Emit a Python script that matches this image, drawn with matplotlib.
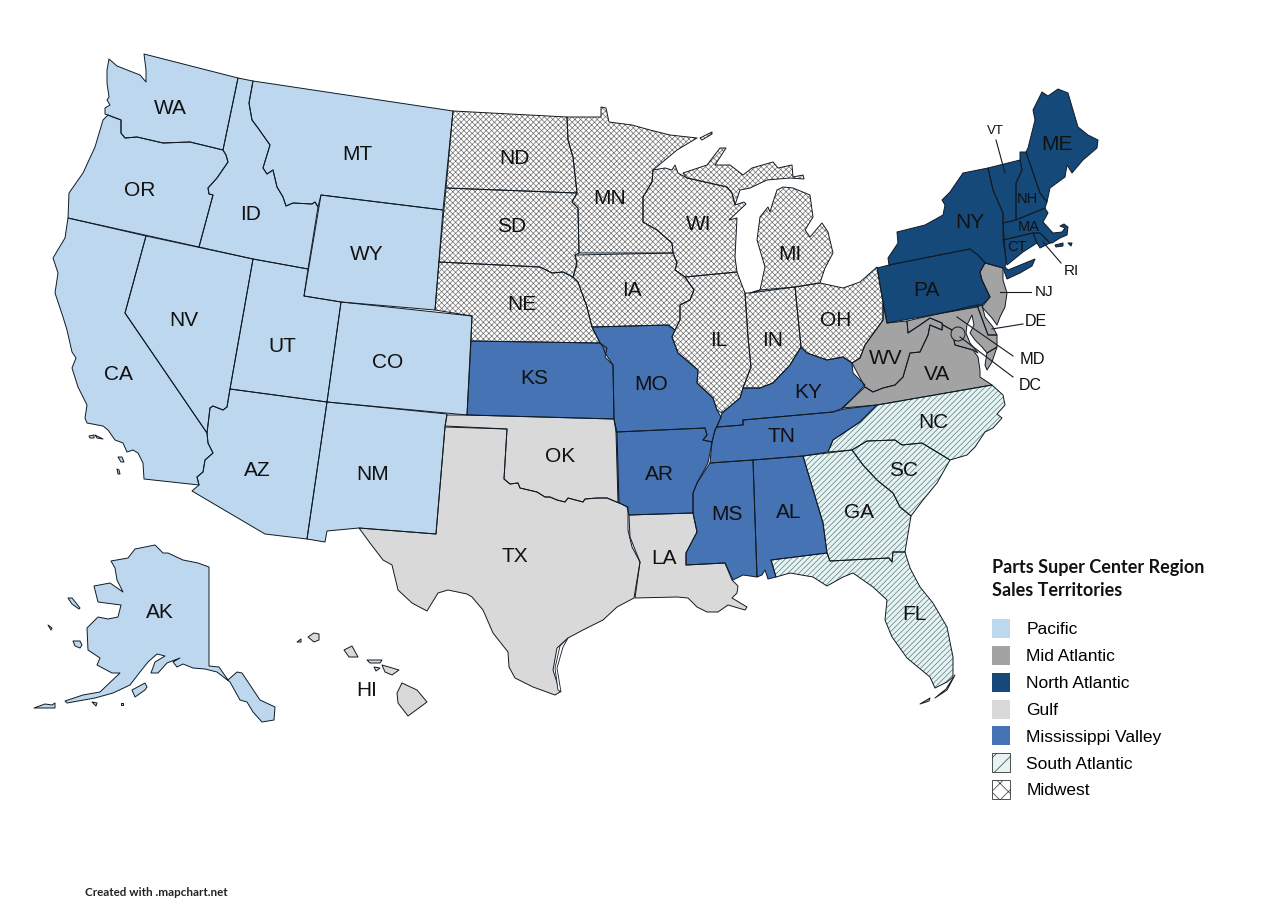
import matplotlib
matplotlib.use("Agg")
import matplotlib.pyplot as plt
from matplotlib.patches import Polygon, Circle, Patch

plt.rcParams["font.family"] = ["Liberation Sans", "DejaVu Sans"]
plt.rcParams["hatch.linewidth"] = 0.5

# outlines, in picture pixels
WA = [(144,54),(238,78),(223,150),(190,142),(163,143),(137,137),(125,138),(121,133),(121,120),(113,117),(108,115),(105,114),(105,108),(110,105),(107,100),(109,97),(107,83),(107,70),(109,59),(117,66),(140,75),(146,82),(146,70)]
OR = [(108,115),(113,117),(121,120),(121,133),(125,138),(137,137),(163,143),(190,142),(223,150),(226,155),(228,162),(217,178),(208,188),(209,194),(213,195),(199,247),(68,218),(69,193),(83,173),(95,147),(103,120)]
ID = [(238,78),(253,81),(249,103),(252,120),(258,128),(270,145),(263,168),(267,174),(273,170),(277,187),(283,197),(286,206),(293,203),(312,204),(315,202),(318,207),(308,269),(253,259),(199,247),(213,195),(209,194),(208,188),(217,178),(228,162),(226,155),(223,150)]
MT = [(253,81),(453,111),(443,210),(321,195),(318,207),(315,202),(312,204),(293,203),(286,206),(283,197),(277,187),(273,170),(267,174),(263,168),(270,145),(258,128),(252,120),(249,103)]
WY = [(321,195),(443,210),(435,310),(341,302),(304,296)]
NV = [(146,236),(253,259),(230,389),(227,407),(223,410),(218,408),(213,406),(210,408),(207,433),(125,313)]
CA = [(68,218),(146,236),(125,313),(207,433),(208,443),(213,453),(205,460),(203,472),(197,477),(199,485),(144,479),(143,463),(138,453),(133,450),(127,452),(123,443),(115,440),(108,430),(103,426),(87,423),(85,418),(87,405),(78,387),(72,368),(76,358),(72,352),(67,330),(63,317),(55,293),(58,273),(53,258),(65,238)]
CA_ISLES = [[(89,436),(94,435),(94,438),(90,438)],[(95,435),(103,439),(97,438)],[(118,457),(122,457),(124,462),(121,462)],[(117,469),(119,470),(120,474),(118,474)]]
UT = [(253,259),(308,269),(304,296),(341,302),(327,402),(230,389)]
CO = [(341,302),(472,316),(467,415),(327,402)]
AZ = [(230,389),(327,402),(307,539),(265,534),(192,491),(199,485),(197,477),(203,472),(205,460),(213,453),(208,443),(207,433),(210,408),(213,406),(218,408),(223,410),(227,407)]
NM = [(327,402),(447,414),(445,427),(436,534),(359,528),(327,531),(325,542),(307,539)]
AK = [(111,561),(128,558),(135,549),(155,545),(163,553),(168,553),(183,560),(198,563),(209,567),(209,666),(219,667),(228,680),(237,672),(242,673),(260,700),(275,707),(274,720),(262,722),(253,712),(247,702),(240,700),(230,682),(217,672),(205,669),(193,668),(183,664),(177,667),(173,662),(180,658),(167,663),(158,673),(151,673),(155,662),(165,656),(157,654),(148,662),(140,672),(130,685),(113,693),(95,698),(67,703),(65,701),(83,695),(100,692),(120,673),(112,673),(97,665),(100,658),(88,650),(87,628),(98,617),(108,619),(118,617),(121,605),(98,602),(94,586),(110,583),(123,592),(117,580),(115,568)]
AK_ISLES = [[(68,598),(72,598),(80,608),(79,609),(72,604)],[(48,625),(52,628),(51,630)],[(73,641),(80,641),(82,645),(80,648),(75,646)],[(132,690),(145,683),(147,687),(145,690),(135,697)],[(34,708),(45,704),(52,705),(55,703),(55,708),(45,708)],[(92,702),(97,703),(96,706)],[(121,703),(123,703),(123,705),(121,705)]]
OK = [(447,415),(467,415),(614,419),(617,432),(619,503),(607,498),(597,498),(585,499),(583,502),(568,498),(565,502),(557,500),(550,497),(545,497),(537,492),(520,488),(518,483),(510,484),(504,479),(507,429),(445,426)]
TX = [(445,427),(507,429),(504,479),(510,484),(518,483),(520,488),(537,492),(545,497),(550,497),(557,500),(565,502),(568,498),(583,502),(585,499),(597,498),(607,498),(619,503),(628,507),(628,530),(632,547),(640,562),(637,580),(634,598),(617,607),(603,620),(583,630),(568,638),(557,648),(553,670),(560,692),(555,695),(533,687),(515,678),(509,667),(508,652),(493,633),(483,610),(472,597),(467,594),(448,590),(438,593),(427,611),(412,603),(398,590),(392,565),(383,560),(370,543),(359,528),(436,534)]
PADRE = [(568,638),(560,646),(555,668),(558,690),(561,692),(557,668),(563,647)]
LA = [(629,515),(693,513),(697,532),(686,553),(686,565),(725,563),(732,580),(738,586),(737,593),(732,598),(747,607),(745,610),(728,605),(718,612),(707,612),(697,607),(688,598),(677,597),(635,598),(640,562),(630,537)]
HI = [[(297,642),(301,639),(301,642)],[(308,637),(314,633),(319,634),(319,640),(314,642)],[(344,650),(352,646),(358,657),(349,657)],[(367,660),(382,660),(380,663),(370,663)],[(374,667),(380,668),(376,671)],[(382,665),(399,670),(392,675),(385,672)],[(402,683),(417,690),(427,702),(408,716),(398,703),(397,693)]]
AR = [(616,432),(705,428),(707,435),(703,440),(712,442),(708,463),(697,483),(693,493),(693,513),(629,515),(627,507),(618,502)]
MO = [(592,327),(668,325),(675,330),(672,337),(678,353),(698,370),(697,383),(713,398),(717,410),(721,417),(715,430),(712,442),(703,440),(707,435),(705,428),(616,432),(614,419),(613,365),(605,353),(603,347),(600,343)]
KS = [(471,341),(600,343),(607,348),(605,357),(613,365),(614,419),(467,415)]
KY = [(743,388),(760,388),(773,383),(790,365),(801,347),(807,353),(827,360),(843,357),(852,363),(853,373),(865,385),(853,398),(843,408),(833,412),(743,420),(743,425),(717,427),(721,417),(722,413),(740,398)]
TN = [(877,405),(860,422),(833,440),(828,452),(803,456),(753,460),(710,463),(712,442),(715,430),(717,427),(743,425),(743,420),(833,412),(844,409)]
MS = [(710,463),(753,460),(757,577),(743,575),(733,580),(725,563),(686,565),(686,553),(697,532),(693,513),(693,493),(697,483)]
AL = [(753,460),(803,456),(817,503),(823,523),(827,553),(771,560),(776,577),(768,579),(765,570),(762,575),(757,577)]
ND = [(453,111),(567,117),(568,140),(573,157),(577,193),(446,188)]
SD = [(446,188),(577,193),(572,202),(578,208),(579,253),(575,255),(577,262),(573,277),(563,272),(552,273),(540,267),(439,262)]
NE = [(439,262),(540,267),(552,273),(563,272),(573,277),(578,282),(587,307),(592,327),(600,343),(471,341),(472,316),(435,310)]
MN = [(567,117),(601,117),(601,107),(606,108),(609,122),(632,125),(650,130),(670,135),(697,138),(677,150),(653,170),(652,182),(643,197),(643,222),(657,230),(672,243),(673,253),(579,253),(578,208),(572,202),(577,193),(573,157),(568,140)]
MN_ISLE = [(700,138),(712,132),(712,134),(702,140)]
IA = [(575,255),(673,253),(677,263),(675,270),(685,277),(694,290),(690,300),(680,305),(680,320),(675,330),(668,325),(592,327),(587,307),(578,282),(573,277),(577,265)]
WI = [(653,170),(665,168),(672,170),(675,165),(678,173),(687,178),(727,187),(732,193),(735,205),(744,202),(746,204),(729,220),(737,218),(735,257),(737,272),(685,277),(675,270),(677,263),(673,253),(672,243),(657,230),(643,222),(643,197),(652,182)]
MI_UP = [(687,178),(683,173),(707,165),(720,148),(726,148),(715,165),(730,165),(743,175),(752,168),(773,162),(778,168),(792,165),(793,177),(803,175),(804,179),(790,178),(767,180),(750,188),(740,190),(735,205),(732,193),(727,187)]
MI_LOW = [(750,293),(760,290),(765,267),(757,240),(760,217),(768,207),(770,212),(773,202),(777,190),(783,187),(793,188),(810,195),(813,217),(805,230),(810,237),(822,223),(828,232),(833,253),(825,268),(820,283),(795,287)]
IL = [(685,277),(737,272),(745,293),(748,337),(751,367),(743,388),(740,398),(722,413),(717,410),(713,398),(697,383),(698,370),(678,353),(672,337),(675,330),(680,320),(680,305),(690,300),(694,290)]
IN = [(745,293),(750,293),(760,290),(795,287),(801,347),(790,365),(773,383),(760,388),(743,388),(751,367),(748,337)]
OH = [(795,287),(820,283),(843,288),(860,282),(877,267),(883,303),(883,320),(865,345),(860,358),(852,363),(843,357),(827,360),(807,353),(801,347)]
GA = [(803,456),(852,450),(863,465),(877,480),(893,493),(900,507),(911,516),(905,552),(893,552),(892,562),(889,558),(830,561),(827,553),(823,523),(817,503)]
SC = [(852,450),(867,441),(895,440),(902,445),(922,443),(950,460),(937,483),(923,500),(911,516),(900,507),(893,493),(877,480),(863,465)]
NC = [(992,385),(1003,395),(1005,405),(997,414),(1002,418),(993,428),(985,432),(975,447),(967,455),(950,460),(922,443),(902,445),(895,440),(867,441),(852,450),(828,452),(833,440),(860,422),(877,405)]
FL = [(771,560),(827,553),(830,561),(889,558),(892,562),(893,552),(905,552),(910,568),(920,587),(933,603),(947,627),(953,657),(953,677),(947,682),(935,688),(930,677),(907,658),(892,637),(885,620),(887,600),(873,587),(853,573),(843,577),(827,586),(813,577),(790,573),(776,577)]
FL_KEYS = [[(955,675),(947,690),(935,698),(946,689)],[(920,704),(930,698),(929,701)]]
VA = [(842,408),(853,398),(865,387),(873,392),(883,388),(895,385),(903,377),(910,353),(920,352),(928,335),(930,325),(942,330),(943,325),(952,330),(955,345),(973,350),(978,357),(980,370),(980,377),(992,385),(877,405)]
VA_SHORE = [(987,353),(997,347),(992,362),(987,370),(985,365)]
WV = [(883,303),(887,323),(907,321),(908,333),(920,325),(930,318),(942,323),(942,330),(930,325),(928,335),(920,352),(910,353),(903,377),(895,385),(883,388),(873,392),(865,387),(852,363),(860,358),(865,345),(883,320)]
MD = [(907,321),(977,305),(988,335),(997,335),(997,347),(987,353),(982,347),(975,340),(970,333),(974,325),(972,315),(967,325),(966,333),(970,343),(978,353),(973,350),(955,345),(952,330),(943,325),(942,323),(930,318),(920,325),(908,333)]
DE = [(977,305),(982,305),(985,317),(993,327),(997,335),(988,335)]
NJ = [(985,263),(1003,268),(1003,280),(1007,293),(1005,307),(1000,317),(997,325),(992,318),(982,307),(990,297),(982,280),(980,272)]
PA = [(877,268),(889,265),(970,249),(978,255),(985,263),(980,272),(982,280),(990,297),(982,305),(977,307),(887,323)]
NY = [(889,265),(888,258),(898,243),(897,232),(925,225),(943,215),(945,205),(942,200),(950,192),(963,173),(988,168),(993,190),(1003,213),(1003,223),(1006,262),(1005,267),(1008,270),(1035,259),(1032,266),(1020,273),(1007,279),(1003,268),(985,263),(978,255),(970,249)]
VT = [(988,168),(1020,160),(1022,170),(1016,183),(1016,220),(1003,223),(1003,213),(993,190)]
NH = [(1020,160),(1020,152),(1026,152),(1040,193),(1047,202),(1045,208),(1016,220),(1016,183),(1022,170)]
ME = [(1026,152),(1028,148),(1035,120),(1033,110),(1042,92),(1048,96),(1058,89),(1068,93),(1078,127),(1088,135),(1098,140),(1097,148),(1083,160),(1077,167),(1072,173),(1067,165),(1065,177),(1050,188),(1047,202),(1040,193)]
MA = [(1003,223),(1016,220),(1045,208),(1048,213),(1043,222),(1053,233),(1062,232),(1065,228),(1060,226),(1064,224),(1068,227),(1067,235),(1060,238),(1052,243),(1050,243),(1040,233),(1033,233),(1003,240)]
MA_ISLES = [[(1055,245),(1063,243),(1063,246),(1056,247)],[(1068,243),(1072,243),(1071,246)]]
CT = [(1003,240),(1033,233),(1037,243),(1023,252),(1007,265),(1005,253)]
RI = [(1033,233),(1040,233),(1050,243),(1040,248),(1037,243)]

pacific = [WA, OR, ID, MT, WY, NV, CA, UT, CO, AZ, NM, AK] + CA_ISLES + AK_ISLES
mid_atlantic = [WV, VA, VA_SHORE, MD, DE, NJ]
north_atlantic = [NY, PA, VT, NH, ME, MA, CT, RI] + MA_ISLES
gulf = [OK, TX, LA] + HI
mississippi = [KS, MO, AR, KY, TN, MS, AL]
south_atlantic = [NC, SC, GA, FL] + FL_KEYS
midwest = [ND, SD, NE, MN, MN_ISLE, IA, WI, MI_UP, MI_LOW, IL, IN, OH]

region_names = ["Pacific", "Mid Atlantic", "North Atlantic", "Gulf", "Mississippi Valley", "South Atlantic", "Midwest"]
region_states = [pacific, mid_atlantic, north_atlantic, gulf, mississippi, south_atlantic, midwest]
region_colors = ["#bdd7ee", "#a3a3a3", "#15497a", "#d9d9d9", "#4573b3", "#e6f3f3", "#ffffff"]
region_hatch = [None, None, None, None, None, "//////", "xxxxxx"]
legend_hatch = [None, None, None, None, None, "//", "xx"]
hatch_colors = [None, None, None, None, None, "#5c7a80", "#707070"]

big_labels = ["WA", "OR", "ID", "MT", "WY", "NV", "UT", "CO", "CA", "AZ", "NM", "ND", "SD", "NE", "KS", "OK", "TX", "MN", "IA", "MO", "AR", "LA", "MS", "AL", "TN", "KY", "IL", "IN", "WI", "MI", "OH", "WV", "VA", "PA", "NY", "ME", "NC", "SC", "GA", "FL", "AK", "HI"]
big_x = [170, 140, 251, 357, 367, 184, 282, 388, 118, 257, 373, 514, 512, 522, 534, 560, 515, 610, 632, 651, 659, 664, 727, 789, 782, 808, 719, 773, 699, 790, 836, 886, 937, 926, 970, 1057, 933, 904, 859, 914, 160, 367]
big_y = [108, 191, 214, 154, 255, 320, 346, 362, 374, 470, 475, 159, 226, 305, 379, 456, 557, 198, 291, 384, 475, 559, 515, 512, 437, 393, 340, 340, 225, 254, 321, 358, 374, 290, 222, 144, 422, 471, 512, 614, 613, 690]

small_labels = ["NH", "MA", "CT", "VT", "RI", "NJ", "DE", "MD", "DC"]
small_x = [1027, 1029, 1017, 995, 1071, 1044, 1036, 1032, 1030]
small_y = [199, 227, 247, 131, 271, 292, 322, 360, 386]
small_sizes = [10.5, 10.5, 10.5, 9.5, 11, 11, 11.5, 11.8, 11.5]

leader_labels = ["VT", "RI", "NJ", "DE", "MD", "DC"]
leader_x0 = [996, 1043, 1000, 992, 957, 960]
leader_y0 = [140, 242, 292, 329, 317, 337]
leader_x1 = [1005, 1061, 1031, 1023, 1013, 1013]
leader_y1 = [173, 263, 292, 324, 356, 377]

fig, ax = plt.subplots(figsize=(12.8, 9.11), dpi=100)
fig.subplots_adjust(left=0, right=1, bottom=0, top=1)
ax.set_xlim(0, 1280)
ax.set_ylim(911, 0)
ax.axis("off")

line = "#0f1a24"
for i in range(len(region_names)):
    for pts in region_states[i]:
        if region_hatch[i]:
            ax.add_patch(Polygon(pts, facecolor=region_colors[i], edgecolor=hatch_colors[i],
                                 hatch=region_hatch[i], linewidth=0))
        else:
            ax.add_patch(Polygon(pts, facecolor=region_colors[i], edgecolor="none"))
for states in region_states:
    for pts in states:
        ax.add_patch(Polygon(pts, fill=False, edgecolor=line, linewidth=0.7, joinstyle="round", zorder=3))
ax.add_patch(Polygon(PADRE, facecolor="white", edgecolor=line, linewidth=0.6, zorder=3))

# DC marker
ax.add_patch(Circle((958, 334), 7, facecolor=region_colors[1], edgecolor=line, linewidth=0.7, zorder=4))

for i in range(len(leader_labels)):
    ax.plot([leader_x0[i], leader_x1[i]], [leader_y0[i], leader_y1[i]], color="#1a1a1a", lw=0.8, zorder=5)

for name, x, y in zip(big_labels, big_x, big_y):
    ax.text(x, y, name, fontsize=15, color="#111111", ha="center", va="center", zorder=6)
for name, x, y, s in zip(small_labels, small_x, small_y, small_sizes):
    ax.text(x, y, name, fontsize=s, color="#111111", ha="center", va="center", zorder=6)

handles = []
for i in range(len(region_names)):
    handles.append(Patch(facecolor=region_colors[i], edgecolor="#333333" if region_hatch[i] else "none",
                         hatch=legend_hatch[i], linewidth=0.6, label=region_names[i]))
ax.legend(handles=handles, loc="upper left", bbox_to_anchor=(992 / 1280, 1 - 619 / 911), frameon=False,
          fontsize=12.5, handlelength=1.06, handleheight=1.31, handletextpad=0.92, labelspacing=0.45,
          borderpad=0, borderaxespad=0)

ax.text(992, 568, "Parts Super Center Region", fontsize=13, family="Lato", fontweight="bold", color="#111111", va="center")
ax.text(992, 590, "Sales Territories", fontsize=13, family="Lato", fontweight="bold", color="#111111", va="center")
ax.text(85, 893, "Created with .mapchart.net", fontsize=8.4, family="Lato", fontweight="bold", color="#222222", va="center")

fig.savefig("out.png", dpi=100)
